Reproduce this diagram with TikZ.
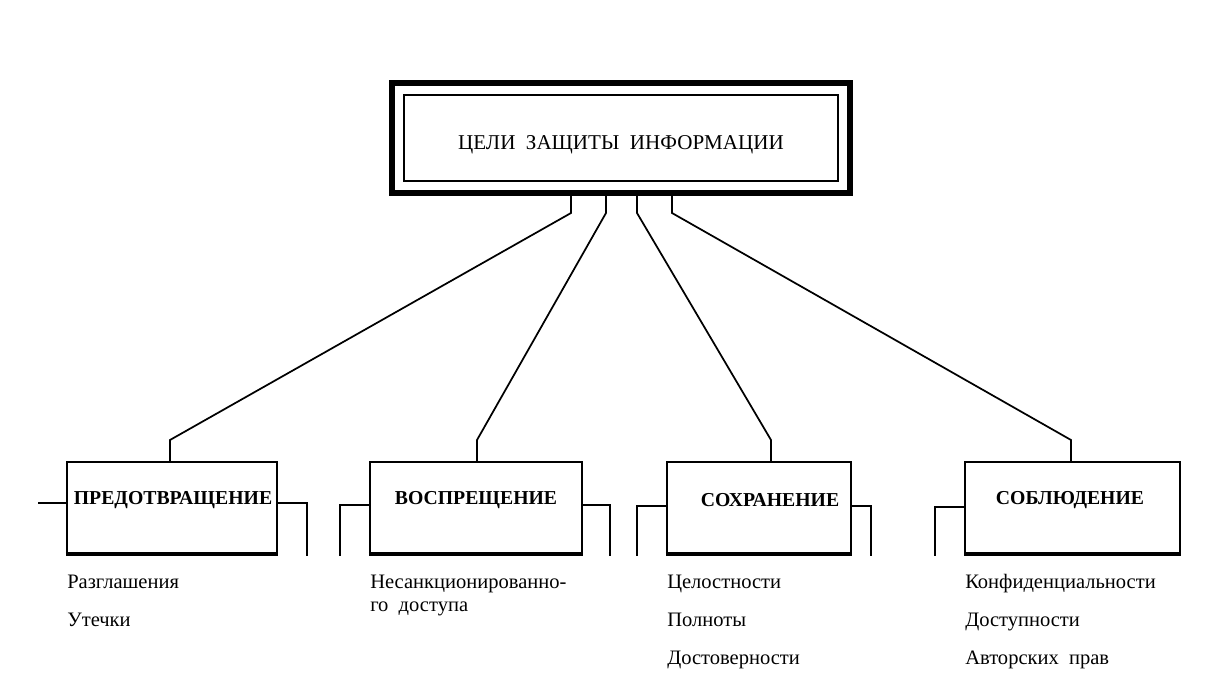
\documentclass[tikz,border=0pt]{standalone}
\usepackage{fontspec}
\setmainfont{Liberation Serif}
\begin{document}
\begin{tikzpicture}[x=0.75pt,y=-0.75pt,
  goal/.style={draw,line width=1.6pt,minimum height=68.25pt,inner sep=0pt},
  gl/.style={font=\bfseries\fontsize{14.8}{17}\selectfont,inner sep=0pt},
  ln/.style={line width=1.3pt},
  sub/.style={anchor=base west,font=\fontsize{15.4}{17}\selectfont,inner sep=0pt}]
\useasboundingbox (0,0) rectangle (1211,691);
% top box
\draw[line width=4.5pt] (392,83) rectangle (850,193);
\draw[line width=1.6pt] (404,95) rectangle (838,181);
\node (top) at (621,145) {\fontsize{15.8}{18}\selectfont ЦЕЛИ\ \ ЗАЩИТЫ\ \ ИНФОРМАЦИИ};
% goal boxes
\node[goal,minimum width=157.5pt] (b1) at (172,507.5) {};
\node[gl] (l1) at (173,500) {ПРЕДОТВРАЩЕНИЕ};
\node[goal,minimum width=159pt] (b2) at (476,507.5) {};
\node[gl] (l2) at (476,500) {ВОСПРЕЩЕНИЕ};
\node[goal,minimum width=138pt] (b3) at (759,507.5) {};
\node[gl] (l3) at (770,500) {СОХРАНЕНИЕ};
\node[goal,minimum width=161pt] (b4) at (1072.5,507.5) {};
\node[gl] (l4) at (1070,500) {СОБЛЮДЕНИЕ};
% shadow bottoms
\foreach \n in {b1,b2,b3,b4} \draw[line width=2.8pt] (\n.south west) -- (\n.south east);
% connectors
\coordinate (t1) at (571,193); \coordinate (t2) at (606,193);
\coordinate (t3) at (637,193); \coordinate (t4) at (672,193);
\draw[ln] (t1) -- ++(0,20) -- (170,440) -- (b1.north -| 170,0);
\draw[ln] (t2) -- ++(0,20) -- (477,440) -- (b2.north -| 477,0);
\draw[ln] (t3) -- ++(0,20) -- (771,440) -- (b3.north -| 771,0);
\draw[ln] (t4) -- ++(0,20) -- (1071,440) -- (b4.north -| 1071,0);
% side brackets
\draw[ln] (38,503) -- (b1.west |- 0,503);
\draw[ln] (b1.east |- 0,503) -- (307,503) -- (307,556);
\draw[ln] (b2.west |- 0,505) -- (340,505) -- (340,556);
\draw[ln] (b2.east |- 0,505) -- (610,505) -- (610,556);
\draw[ln] (b3.west |- 0,506) -- (637,506) -- (637,556);
\draw[ln] (b3.east |- 0,506) -- (871,506) -- (871,556);
\draw[ln] (b4.west |- 0,507) -- (935,507) -- (935,556);
% sublabels
\node[sub] at (67,589) {Разглашения};
\node[sub] at (67,626) {Утечки};
\node[sub] at (370,589) {Несанкционированно-};
\node[sub] at (370,611) {го\ \ доступа};
\node[sub] at (667,589) {Целостности};
\node[sub] at (667,626) {Полноты};
\node[sub] at (667,664) {Достоверности};
\node[sub] at (965,589) {Конфиденциальности};
\node[sub] at (965,626) {Доступности};
\node[sub] at (965,664) {Авторских\ \ прав};
\end{tikzpicture}
\end{document}
